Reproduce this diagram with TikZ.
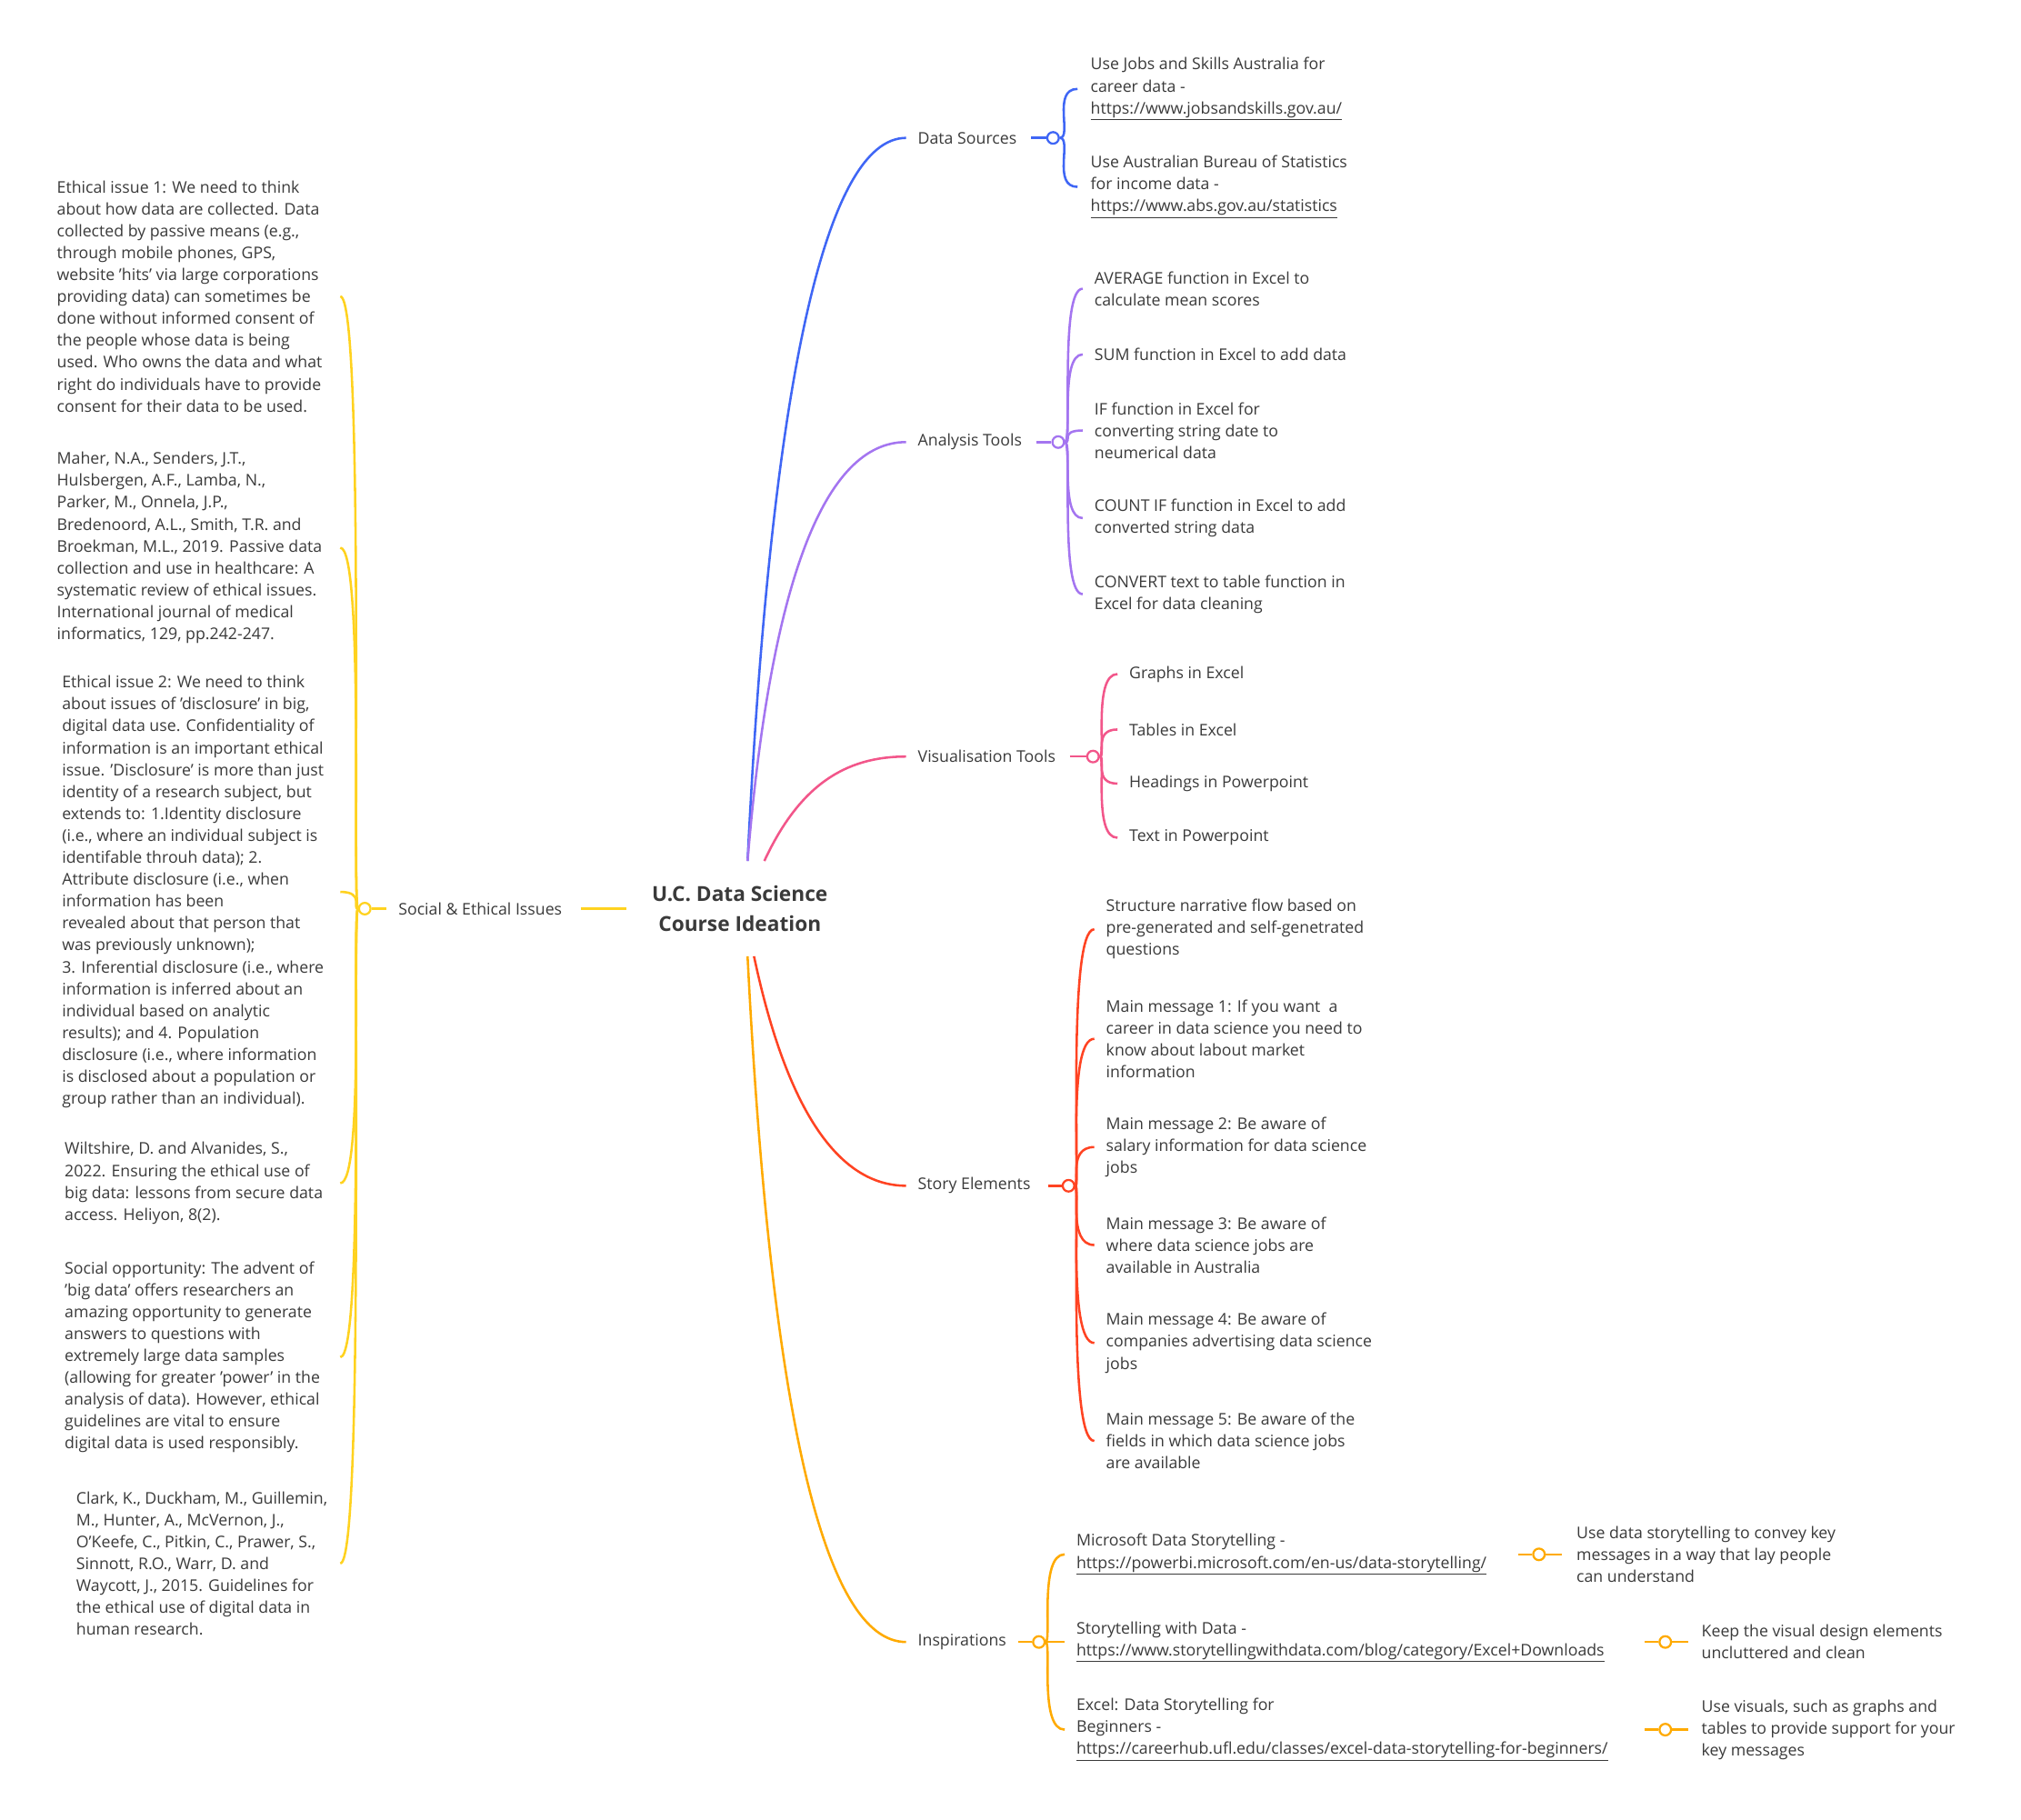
\documentclass[tikz,border=0pt]{standalone}
\usepackage{fontspec}
\setmainfont{Open Sans}
\definecolor{cb}{HTML}{3F66F5}
\definecolor{cp}{HTML}{A475F0}
\definecolor{ck}{HTML}{F2568A}
\definecolor{cr}{HTML}{FF4322}
\definecolor{co}{HTML}{FFAA00}
\definecolor{cy}{HTML}{FFD21F}
\definecolor{tx}{HTML}{3A3A3A}
\newcommand{\ul}[1]{\underline{#1}}
\begin{document}
\begin{tikzpicture}[x=1pt,y=-1pt,
 txt/.style={anchor=west,align=left,inner sep=0pt,text=tx,font=\fontsize{12.5}{17}\selectfont},
 dot/.style={circle,draw=#1,fill=white,line width=1.6pt,minimum size=9pt,inner sep=0pt},
 ln/.style={draw=#1,line width=1.8pt}]
\useasboundingbox (0,0) rectangle (1568,1412);
\node[align=center,text=tx,font=\bfseries\fontsize{16}{23}\selectfont] (c) at (574,705) {U.C. Data Science\\Course Ideation};
\node[txt] (ds) at (712,107) {Data Sources};
\node[txt] (at) at (712,343) {Analysis Tools};
\node[txt] (vt) at (712,587) {Visualisation Tools};
\node[txt] (se) at (712,920) {Story Elements};
\node[txt] (in) at (712,1274) {Inspirations};
\node[txt] (so) at (309,705) {Social \& Ethical Issues};
\coordinate (cb0) at (580,668);\coordinate (cp0) at (580,668);\coordinate (ck0) at (593,668);
\coordinate (cr0) at (585,742);\coordinate (co0) at (580,742);
\draw[ln=cb] (cb0) .. controls (598,300) and (640,107) .. (703,107);
\draw[ln=cp] (cp0) .. controls (598,450) and (640,343) .. (703,343);
\draw[ln=ck] (ck0) .. controls (620,610) and (655,587) .. (703,587);
\draw[ln=cr] (cr0) .. controls (610,860) and (650,920) .. (703,920);
\draw[ln=co] (co0) .. controls (598,1100) and (640,1274) .. (703,1274);
\draw[ln=cy] (451,705) -- (486,705);
% Data sources
\node[dot=cb] (dsd) at (817,107) {};
\draw[ln=cb] (800,107) -- (dsd);
\node[txt] (ds1) at (846,69) {Use Jobs and Skills Australia for\\career data -\\\ul{https://www.jobsandskills.gov.au/}};
\node[txt] (ds2) at (846,145) {Use Australian Bureau of Statistics\\for income data -\\\ul{https://www.abs.gov.au/statistics}};
\foreach \y in {69,145}{\draw[ln=cb] (dsd.east) .. controls (832,107) and (816,\y) .. (836,\y);}
% Analysis
\node[dot=cp] (atd) at (821,343) {};
\draw[ln=cp] (804,343) -- (atd);
\node[txt] at (849,224) {AVERAGE function in Excel to\\calculate mean scores};
\node[txt] at (849,275) {SUM function in Excel to add data};
\node[txt] at (849,334) {IF function in Excel for\\converting string date to\\neumerical data};
\node[txt] at (849,402) {COUNT IF function in Excel to add\\converted string data};
\node[txt] at (849,461) {CONVERT text to table function in\\Excel for data cleaning};
\foreach \y in {224,275,334,402,461}{\draw[ln=cp] (atd.east) .. controls (832,343) and (822,\y) .. (840,\y);}
% Visualisation
\node[dot=ck] (vtd) at (848,587) {};
\draw[ln=ck] (830,587) -- (vtd);
\node[txt] at (876,523) {Graphs in Excel};
\node[txt] at (876,566) {Tables in Excel};
\node[txt] at (876,608) {Headings in Powerpoint};
\node[txt] at (876,650) {Text in Powerpoint};
\foreach \y in {523,566,608,650}{\draw[ln=ck] (vtd.east) .. controls (858,587) and (848,\y) .. (867,\y);}
% Story
\node[dot=cr] (sed) at (829,920) {};
\draw[ln=cr] (813,920) -- (sed);
\node[txt] at (858,721) {Structure narrative flow based on\\pre-generated and self-genetrated\\questions};
\node[txt] at (858,806) {Main message 1: If you want~ a\\career in data science you need to\\know about labout market\\information};
\node[txt] at (858,890) {Main message 2: Be aware of\\salary information for data science\\jobs};
\node[txt] at (858,966) {Main message 3: Be aware of\\where data science jobs are\\available in Australia};
\node[txt] at (858,1042) {Main message 4: Be aware of\\companies advertising data science\\jobs};
\node[txt] at (858,1118) {Main message 5: Be aware of the\\fields in which data science jobs\\are available};
\foreach \y in {721,806,890,966,1042,1118}{\draw[ln=cr] (sed.east) .. controls (838,920) and (828,\y) .. (849,\y);}
% Inspirations
\node[dot=co] (ind) at (806,1274) {};
\draw[ln=co] (790,1274) -- (ind);
\node[txt] (i1) at (835,1206) {Microsoft Data Storytelling -\\\ul{https://powerbi.microsoft.com/en-us/data-storytelling/}};
\node[txt] (i2) at (835,1274) {Storytelling with Data -\\\ul{https://www.storytellingwithdata.com/blog/category/Excel+Downloads}};
\node[txt] (i3) at (835,1342) {Excel: Data Storytelling for\\Beginners -\\\ul{https://careerhub.ufl.edu/classes/excel-data-storytelling-for-beginners/}};
\foreach \y in {1206,1274,1342}{\draw[ln=co] (ind.east) .. controls (816,1274) and (806,\y) .. (826,\y);}
\node[dot=co] (g1) at (1194,1206) {};
\node[dot=co] (g2) at (1292,1274) {};
\node[dot=co] (g3) at (1292,1342) {};
\draw[ln=co] (1178,1206) -- (g1);\draw[ln=co] (1276,1274) -- (g2);\draw[ln=co] (1276,1342) -- (g3);
\draw[ln=co] (g1.east) -- (1212,1206);\draw[ln=co] (g2.east) -- (1310,1274);\draw[ln=co] (g3.east) -- (1310,1342);
\node[txt] at (1223,1206) {Use data storytelling to convey key\\messages in a way that lay people\\can understand};
\node[txt] at (1320,1274) {Keep the visual design elements\\uncluttered and clean};
\node[txt] at (1320,1342) {Use visuals, such as graphs and\\tables to provide support for your\\key messages};
% Social
\node[dot=cy] (sod) at (283,705) {};
\draw[ln=cy] (sod.east) -- (300,705);
\node[txt] at (44,230) {Ethical issue 1: We need to think\\about how data are collected. Data\\collected by passive means (e.g.,\\through mobile phones, GPS,\\website 'hits' via large corporations\\providing data) can sometimes be\\done without informed consent of\\the people whose data is being\\used. Who owns the data and what\\right do individuals have to provide\\consent for their data to be used.};
\node[txt] at (44,425) {Maher, N.A., Senders, J.T.,\\Hulsbergen, A.F., Lamba, N.,\\Parker, M., Onnela, J.P.,\\Bredenoord, A.L., Smith, T.R. and\\Broekman, M.L., 2019. Passive data\\collection and use in healthcare: A\\systematic review of ethical issues.\\International journal of medical\\informatics, 129, pp.242-247.};
\node[txt] at (48,692) {Ethical issue 2: We need to think\\about issues of 'disclosure' in big,\\digital data use. Confidentiality of\\information is an important ethical\\issue. 'Disclosure' is more than just\\identity of a research subject, but\\extends to: 1.Identity disclosure\\(i.e., where an individual subject is\\identifable throuh data); 2.\\Attribute disclosure (i.e., when\\information has been\\revealed about that person that\\was previously unknown);\\3. Inferential disclosure (i.e., where\\information is inferred about an\\individual based on analytic\\results); and 4. Population\\disclosure (i.e., where information\\is disclosed about a population or\\group rather than an individual).};
\node[txt] at (50,918) {Wiltshire, D. and Alvanides, S.,\\2022. Ensuring the ethical use of\\big data: lessons from secure data\\access. Heliyon, 8(2).};
\node[txt] at (50,1053) {Social opportunity: The advent of\\'big data' offers researchers an\\amazing opportunity to generate\\answers to questions with\\extremely large data samples\\(allowing for greater 'power' in the\\analysis of data). However, ethical\\guidelines are vital to ensure\\digital data is used responsibly.};
\node[txt] at (59,1213) {Clark, K., Duckham, M., Guillemin,\\M., Hunter, A., McVernon, J.,\\O'Keefe, C., Pitkin, C., Prawer, S.,\\Sinnott, R.O., Warr, D. and\\Waycott, J., 2015. Guidelines for\\the ethical use of digital data in\\human research.};
\foreach \y in {230,425,692,918,1053,1213}{\draw[ln=cy] (sod.west) .. controls (273,705) and (283,\y) .. (264,\y);}
\end{tikzpicture}
\end{document}
